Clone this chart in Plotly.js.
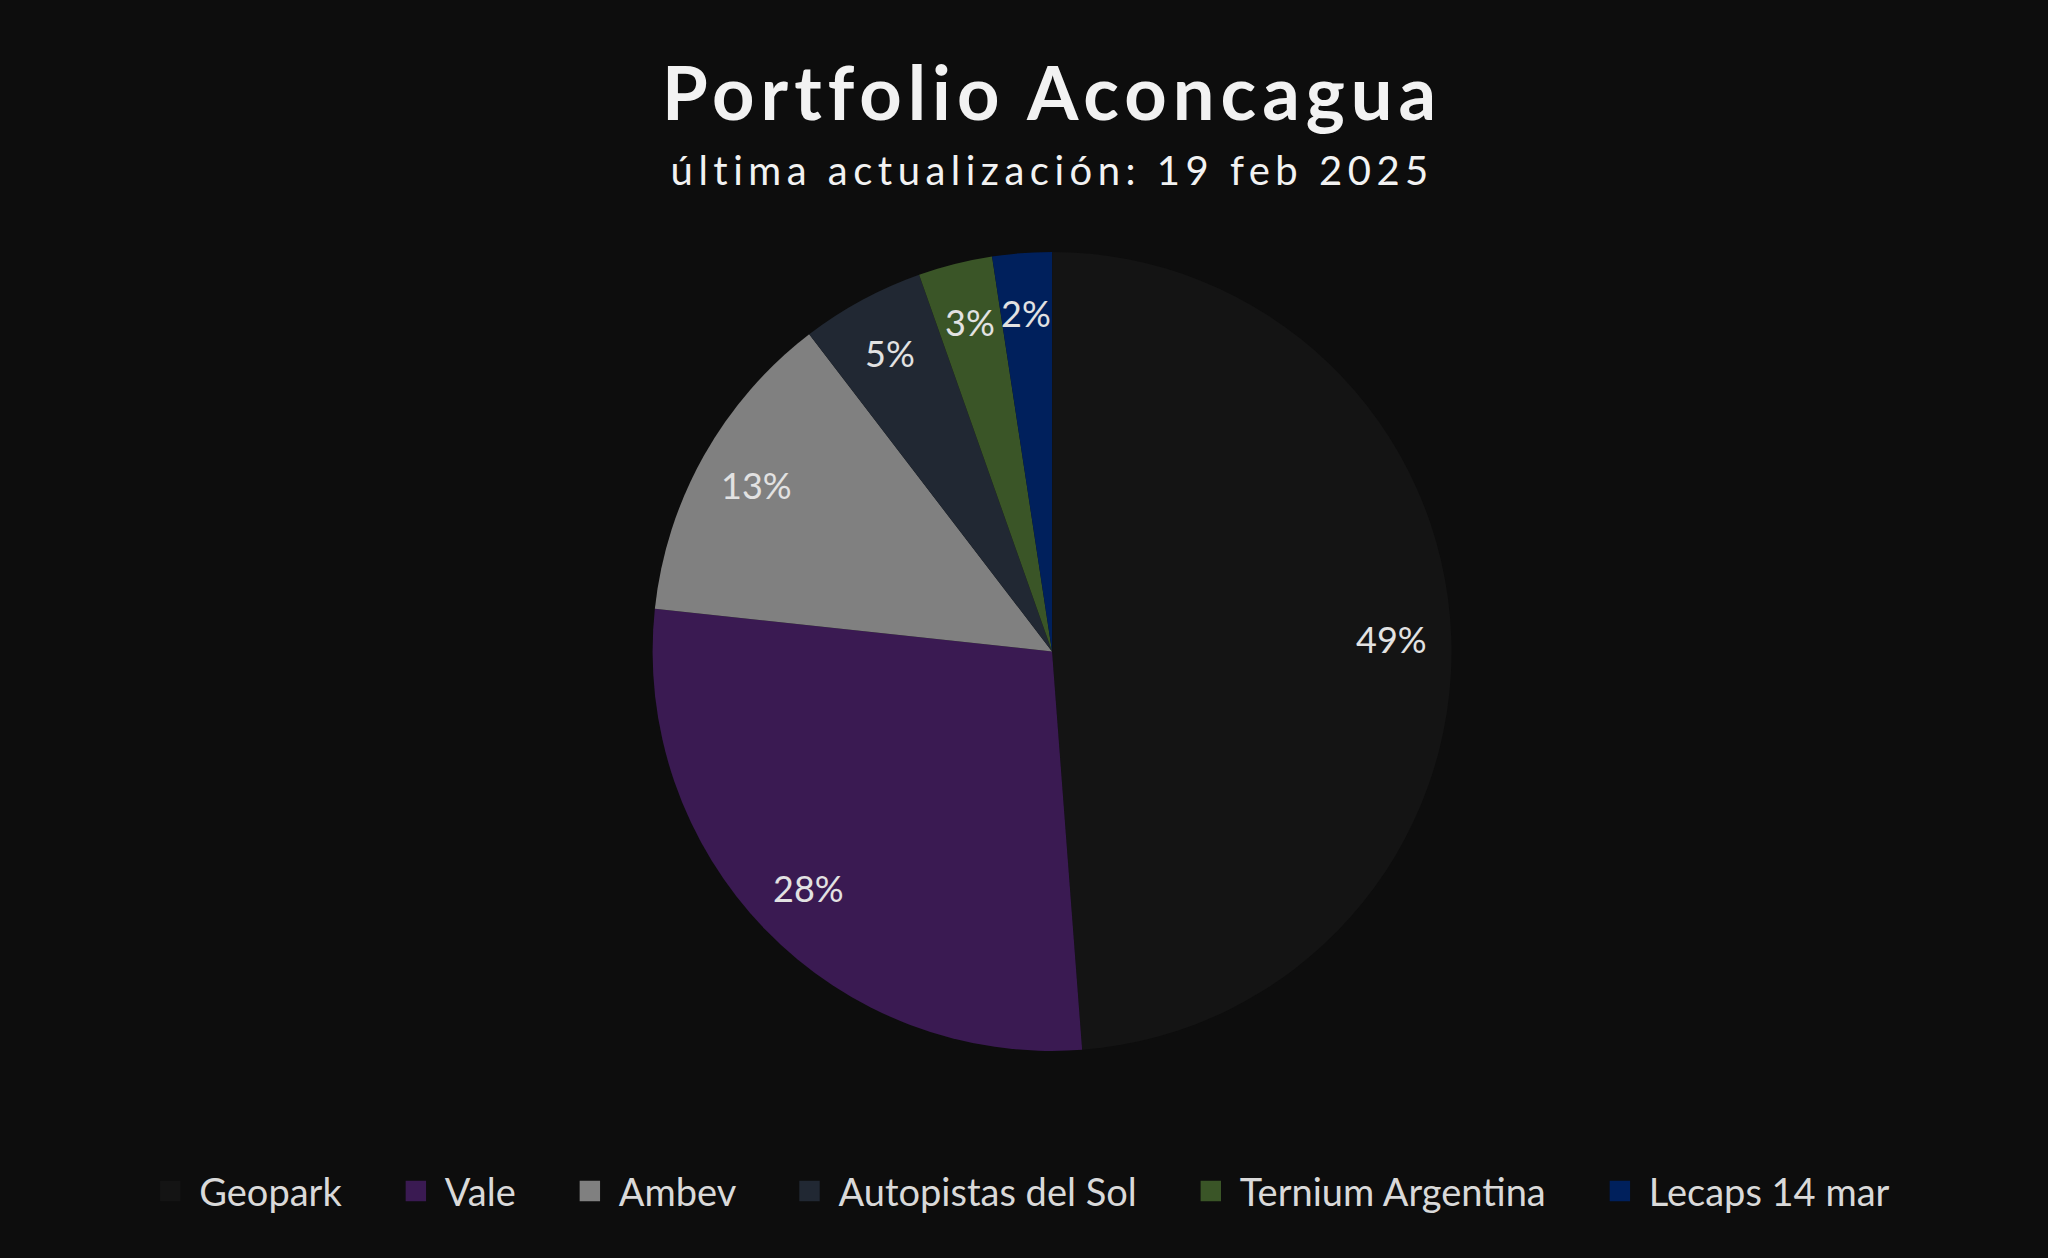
<!DOCTYPE html>
<html>
<head>
<meta charset="utf-8">
<script src="https://cdn.plot.ly/plotly-3.0.1.min.js"></script>
<style>
  html, body { margin: 0; padding: 0; background: #0d0d0d; }
  #chart { width: 2048px; height: 1258px; }
  #chart .gtitle { letter-spacing: 6px; }
  #chart .subtitle-spaced text { letter-spacing: 5.5px; }
  #chart .legendpie { transform: translate(11px, 0px) scale(1.7); }
</style>
</head>
<body>
<div id="chart"></div>
<script>
// Holdings (labels show the rounded share).
const holdings = ["Geopark", "Vale", "Ambev", "Autopistas del Sol", "Ternium Argentina", "Lecaps 14 mar"];
const weights  = [48.8, 27.9, 12.9, 5.0, 3.0, 2.4];
const sliceColors = ["#141414", "#3a1a52", "#808080", "#212833", "#3a5527", "#00205c"];

const titleText = "Portfolio Aconcagua";
const subtitleText = "última actualización: 19 feb 2025";

const FONT = "Lato, 'Open Sans', sans-serif";

// pie placement (paper fractions) -- radius follows from the domain height
const pieDomain = { x: [0.1, 0.9274], y: [0.1646, 0.7997] };
const W = 2048, H = 1258;
const cx = (pieDomain.x[0] + pieDomain.x[1]) / 2;
const cy = (pieDomain.y[0] + pieDomain.y[1]) / 2;
const radiusPx = (pieDomain.y[1] - pieDomain.y[0]) * H / 2;

// percent labels sit near the outer edge, at each slice's mid angle (like the source)
const total = weights.reduce((a, b) => a + b, 0);
let acc = 0;
const pctLabels = weights.map(w => {
  const mid = (acc + w / 2) / total * 2 * Math.PI;
  acc += w;
  const rr = radiusPx * 0.85;
  return {
    text: Math.round(w / total * 100) + "%",
    xref: "paper", yref: "paper",
    x: cx + rr * Math.sin(mid) / W,
    y: cy + rr * Math.cos(mid) / H,
    xanchor: "center", yanchor: "middle",
    showarrow: false,
    font: { family: FONT, size: 36, color: "#e2e2e2" },
  };
});

// legend entries get trailing spacing to match the wide gaps of the source legend
const pad = "\u00a0".repeat(5) + "\u2009\u2009";

const data = [{
  type: "pie",
  labels: holdings.map(h => h + pad),
  values: weights,
  sort: false,
  direction: "clockwise",
  rotation: 0,
  marker: { colors: sliceColors, line: { width: 0 } },
  textinfo: "none",
  hoverinfo: "label+percent",
  domain: pieDomain,
}];

const layout = {
  width: W,
  height: H,
  paper_bgcolor: "#0d0d0d",
  plot_bgcolor: "#0d0d0d",
  margin: { l: 0, r: 0, t: 0, b: 0 },
  font: { family: FONT, color: "#d9d9d9" },
  title: {
    text: "<b>" + titleText + "</b>",
    font: { family: FONT, size: 74, color: "#f2f2f2" },
    x: cx, xanchor: "center",
    y: 1 - 94 / H, yanchor: "middle",
    xref: "paper", yref: "container",
  },
  annotations: [{
    text: subtitleText,
    xref: "paper", yref: "paper",
    x: cx, xanchor: "center",
    y: 1 - 170 / H, yanchor: "middle",
    showarrow: false,
    font: { family: FONT, size: 40, color: "#f2f2f2" },
  }].concat(pctLabels),
  showlegend: true,
  legend: {
    orientation: "h",
    x: 0.5155, xanchor: "center",
    y: 0.053, yanchor: "middle",
    font: { family: FONT, size: 38, color: "#d9d9d9" },
    traceorder: "normal",
    bgcolor: "rgba(0,0,0,0)",
  },
};

Plotly.newPlot("chart", data, layout, { displayModeBar: false, staticPlot: true }).then(() => {
  const first = document.querySelector("#chart .annotation");
  if (first) first.classList.add("subtitle-spaced");
});
</script>
</body>
</html>
